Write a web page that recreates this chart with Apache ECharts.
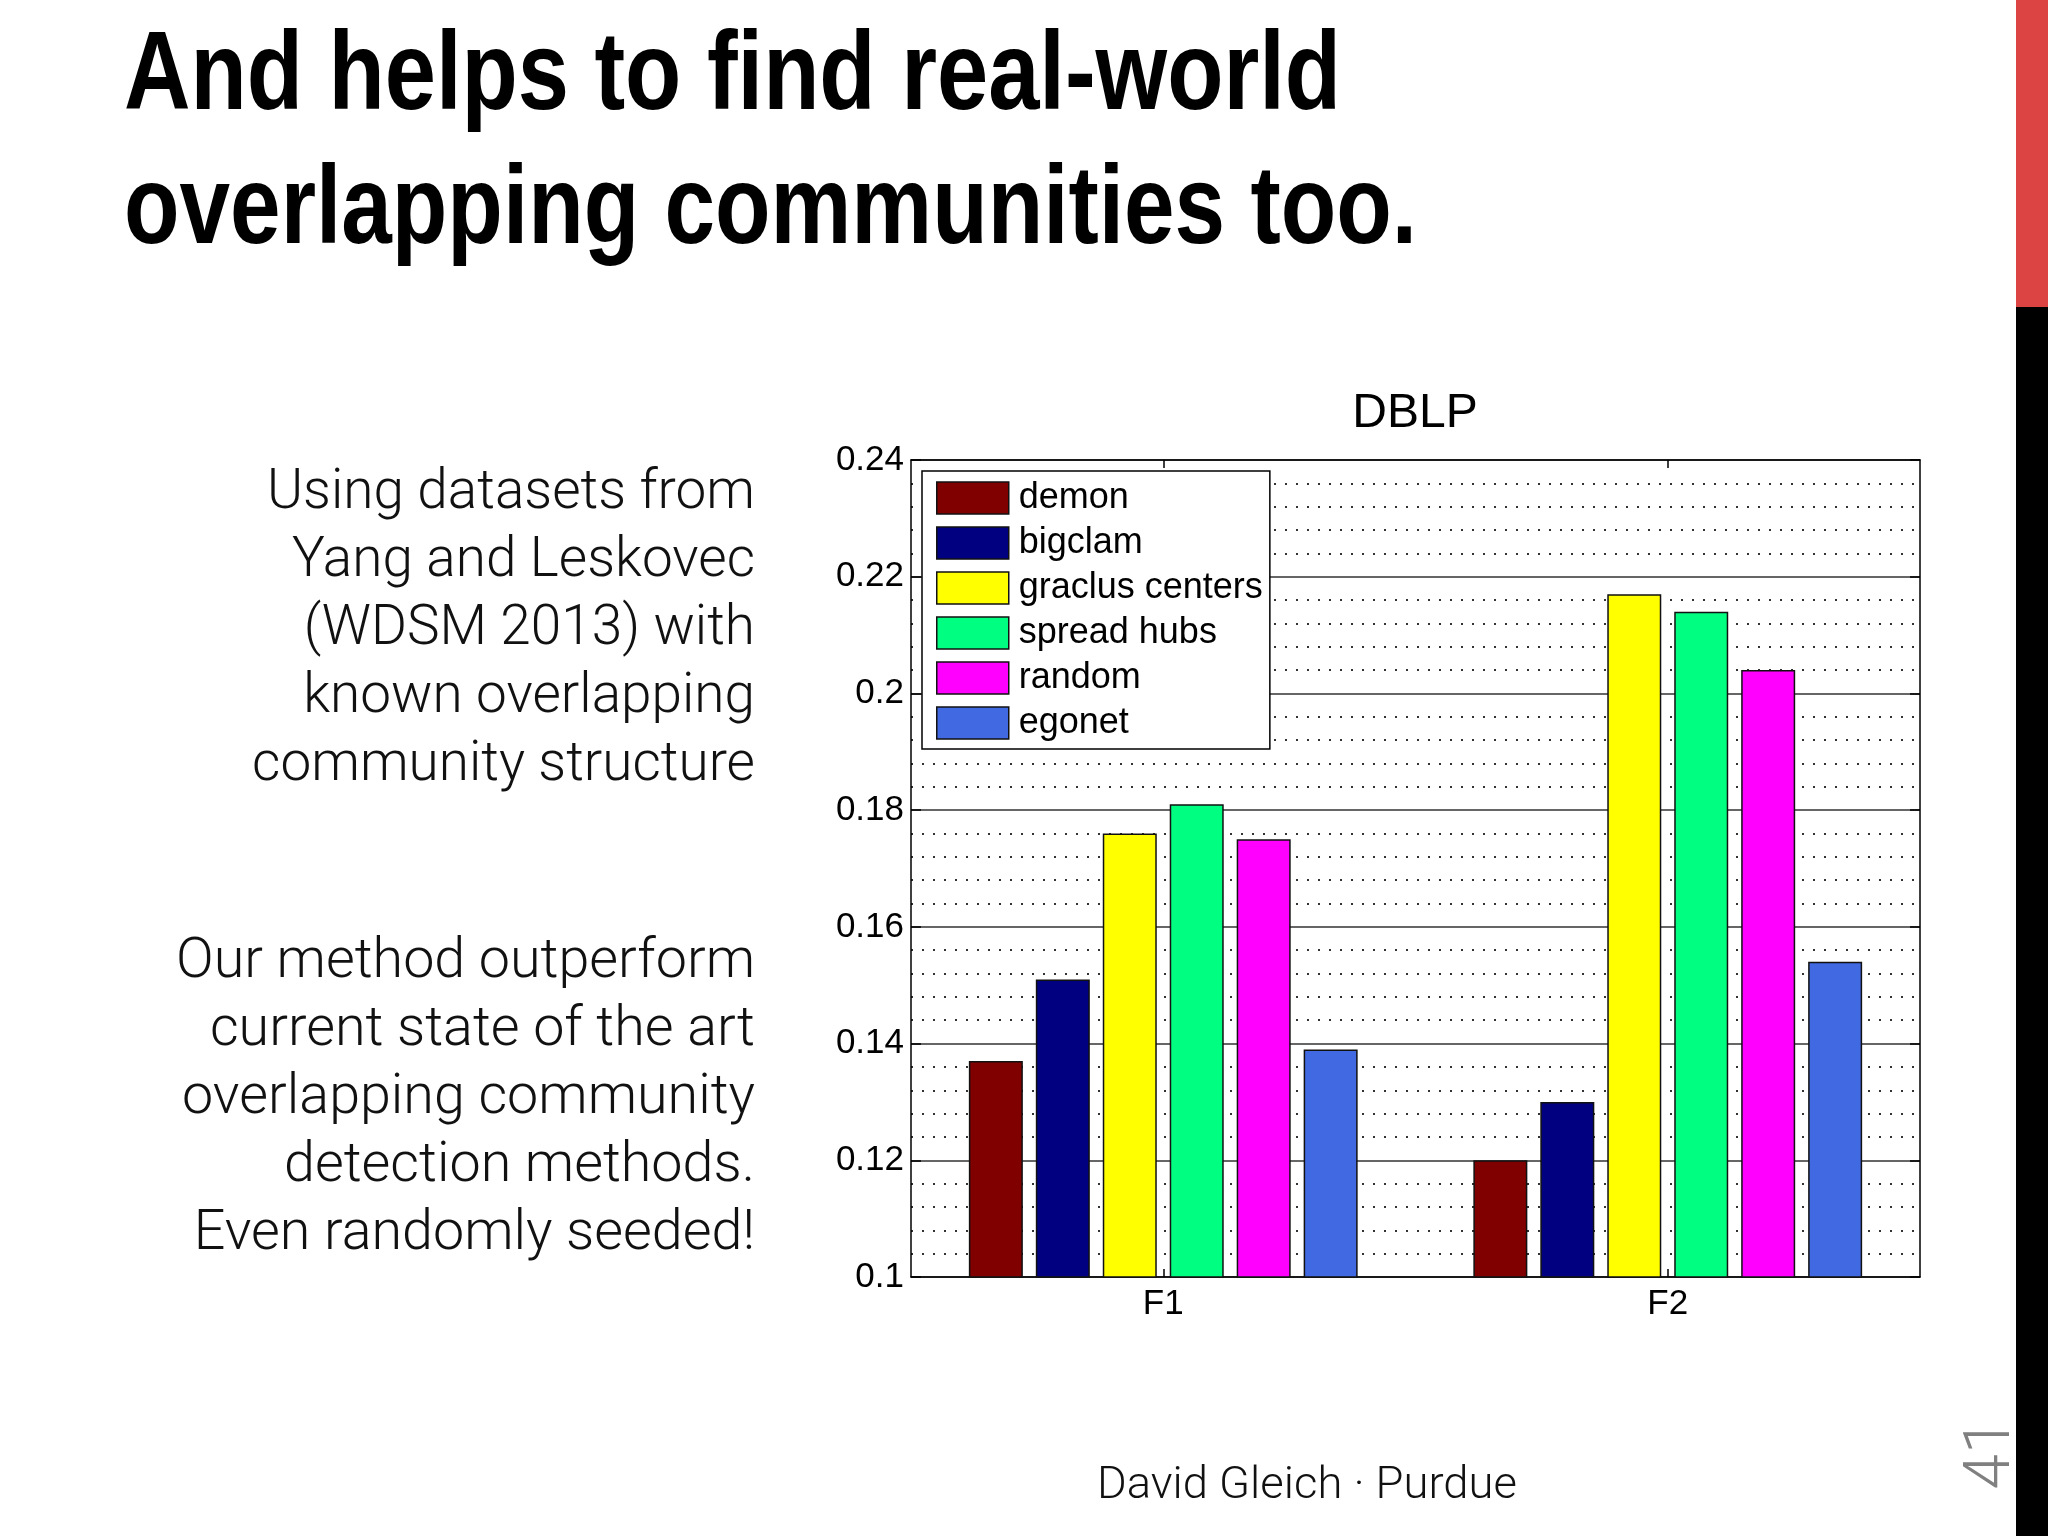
<!DOCTYPE html>
<html>
<head>
<meta charset="utf-8">
<script src="https://cdn.jsdelivr.net/npm/echarts@6/dist/echarts.min.js"></script>
<style>
  html, body { margin: 0; padding: 0; background: #fff; }
  #chart { width: 2048px; height: 1536px; }
</style>
</head>
<body>
<div id="chart"></div>
<script>
// ---- data ----
var categories = ['F1', 'F2'];
var methods = ['demon', 'bigclam', 'graclus centers', 'spread hubs', 'random', 'egonet'];
var demon = [0.137, 0.120];
var bigclam = [0.151, 0.130];
var graclusCenters = [0.176, 0.217];
var spreadHubs = [0.181, 0.214];
var randomSeeds = [0.175, 0.204];
var egonet = [0.139, 0.154];
var chartTitle = 'DBLP';
var headingLines = ['And helps to find real-world', 'overlapping communities too.'];
var block1 = ['Using datasets from', 'Yang and Leskovec', '(WDSM 2013) with', 'known overlapping', 'community structure'];
var block2 = ['Our method outperform', 'current state of the art', 'overlapping community', 'detection methods.', 'Even randomly seeded!'];
var footer = 'David Gleich \u00b7 Purdue';
var pageNumber = '41';

// ---- styles ----
var seriesData = [demon, bigclam, graclusCenters, spreadHubs, randomSeeds, egonet];
var colors = ['#800000', '#000080', '#FFFF00', '#00FF80', '#FF00FF', '#4169E1'];
var SANS = '"Liberation Sans", Arial, Helvetica, sans-serif';
var LIGHT = 'Roboto, "Liberation Sans", sans-serif';

var measureCtx = document.createElement('canvas').getContext('2d');
function fitScale(text, weight, size, family, target) {
  measureCtx.font = weight + ' ' + size + 'px ' + family;
  var w = measureCtx.measureText(text).width;
  return w > 0 ? target / w : 1;
}

var graphics = [];
// side bars
graphics.push({ type: 'rect', shape: { x: 2016, y: 0, width: 32, height: 307 }, style: { fill: '#DC4444' }, silent: true });
graphics.push({ type: 'rect', shape: { x: 2016, y: 307, width: 32, height: 1229 }, style: { fill: '#000000' }, silent: true });

// heading
var headTargets = [1217, 1293];
var headBase = [117, 251];
headingLines.forEach(function (t, i) {
  var s = fitScale(t, 'bold', 112, SANS, headTargets[i]);
  graphics.push({
    type: 'text', x: 124, y: headBase[i] - 0.35 * 112, scaleX: s,
    style: { text: t, fontSize: 112, fontWeight: 'bold', fontFamily: SANS, fill: '#000',
      align: 'left', verticalAlign: 'middle', textAlign: 'left', textVerticalAlign: 'middle' }
  });
});

// side text blocks
function addBlock(lines, firstBase, refTarget) {
  var s = fitScale(lines[0], '300', 55, LIGHT, refTarget);
  lines.forEach(function (t, i) {
    graphics.push({
      type: 'text', x: 755, y: firstBase + i * 68 - 0.35 * 55, scaleX: s,
      style: { text: t, fontSize: 55, fontWeight: 300, fontFamily: LIGHT, fill: '#111',
        align: 'right', verticalAlign: 'middle', textAlign: 'right', textVerticalAlign: 'middle' }
    });
  });
}
addBlock(block1, 513, 488);
addBlock(block2, 982, 579);

// footer
var fs = fitScale(footer, '300', 44, LIGHT, 420);
graphics.push({
  type: 'text', x: 1097, y: 1502 - 0.35 * 44, scaleX: fs,
  style: { text: footer, fontSize: 44, fontWeight: 300, fontFamily: LIGHT, fill: '#111',
    align: 'left', verticalAlign: 'middle', textAlign: 'left', textVerticalAlign: 'middle' }
});
// page number
graphics.push({
  type: 'text', x: 1993, y: 1454, rotation: Math.PI / 2,
  style: { text: pageNumber, fontSize: 64, fontWeight: 300, fontFamily: LIGHT, fill: '#808080',
    align: 'center', verticalAlign: 'middle', textAlign: 'center', textVerticalAlign: 'middle' }
});
// chart title
graphics.push({
  type: 'text', x: 1415, y: 431 - 0.35 * 48,
  style: { text: chartTitle, fontSize: 48, fontFamily: SANS, fill: '#000',
    align: 'center', verticalAlign: 'middle', textAlign: 'center', textVerticalAlign: 'middle' }
});

var series = methods.map(function (name, i) {
  return {
    name: name, type: 'bar', data: seriesData[i],
    barWidth: 54, barGap: '24%',
    itemStyle: { color: colors[i], borderColor: '#111', borderWidth: 1.5 },
    emphasis: { disabled: true }
  };
});

var yFmt = function (v) { return String(+(+v).toFixed(2)); };

var option = {
  animation: false,
  backgroundColor: '#ffffff',
  grid: { left: 911, right: 128, top: 460, bottom: 259, containLabel: false },
  legend: {
    orient: 'vertical', left: 922, top: 471,
    data: methods,
    itemWidth: 72, itemHeight: 32, itemGap: 9,
    padding: [9, 7, 8, 14],
    backgroundColor: '#ffffff', borderColor: '#000', borderWidth: 1.5, borderRadius: 0,
    icon: 'rect',
    itemStyle: { borderColor: '#111', borderWidth: 1.5 },
    textStyle: { fontSize: 36, fontFamily: SANS, color: '#000', padding: [0, 0, 0, 5] },
    selectedMode: false
  },
  xAxis: [{
    type: 'category', data: categories, position: 'bottom',
    axisLine: { show: true, onZero: false, lineStyle: { color: '#000', width: 1.5 } },
    axisTick: { show: true, inside: true, length: 8, alignWithLabel: true, lineStyle: { color: '#000', width: 1.5 } },
    axisLabel: { fontSize: 35, fontFamily: SANS, color: '#000', margin: 10 },
    splitLine: { show: false }
  }, {
    type: 'category', data: categories, position: 'top',
    axisLine: { show: true, onZero: false, lineStyle: { color: '#000', width: 1.5 } },
    axisTick: { show: true, inside: true, length: 8, alignWithLabel: true, lineStyle: { color: '#000', width: 1.5 } },
    axisLabel: { show: false },
    splitLine: { show: false }
  }],
  yAxis: [{
    type: 'value', min: 0.1, max: 0.24, interval: 0.02, position: 'left',
    axisLine: { show: true, lineStyle: { color: '#000', width: 1.5 } },
    axisTick: { show: true, inside: true, length: 10, lineStyle: { color: '#000', width: 1.5 } },
    axisLabel: { fontSize: 35, fontFamily: SANS, color: '#000', margin: 7, formatter: yFmt },
    splitLine: { show: true, lineStyle: { color: '#333', width: 1.5, type: 'solid' } },
    minorTick: { show: false, splitNumber: 5 },
    minorSplitLine: { show: true, lineStyle: { color: '#333', width: 1.8, type: [2, 9] } }
  }, {
    type: 'value', min: 0.1, max: 0.24, interval: 0.02, position: 'right',
    axisLine: { show: true, lineStyle: { color: '#000', width: 1.5 } },
    axisTick: { show: true, inside: true, length: 10, lineStyle: { color: '#000', width: 1.5 } },
    axisLabel: { show: false },
    splitLine: { show: false }
  }],
  series: series,
  graphic: { elements: graphics }
};

var chart = echarts.init(document.getElementById('chart'), null, { renderer: 'canvas' });
chart.setOption(option);
</script>
</body>
</html>
